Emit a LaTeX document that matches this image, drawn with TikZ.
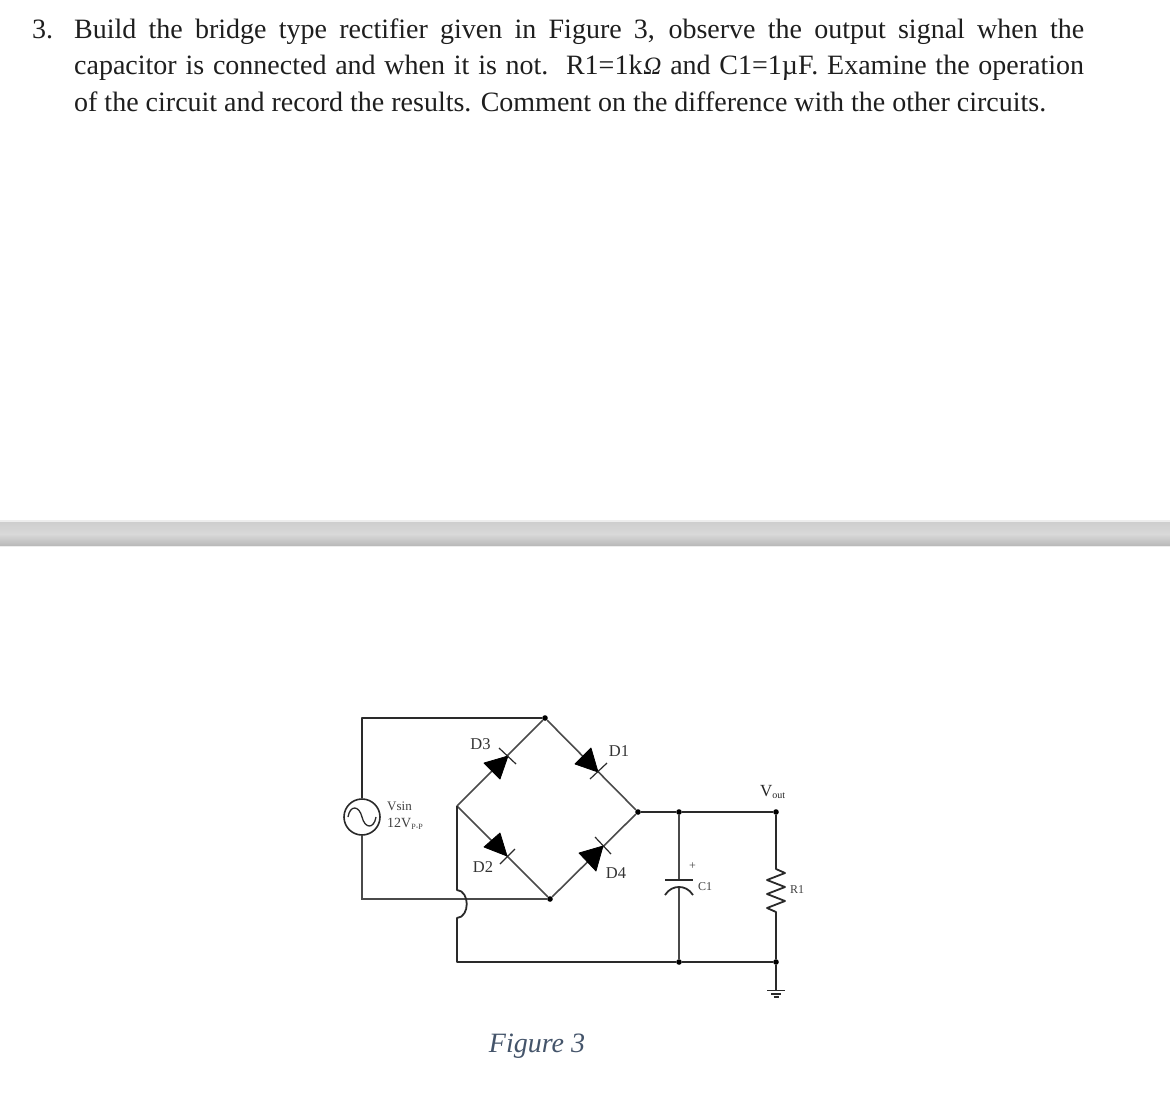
\documentclass[tikz,border=0pt]{standalone}
\usepackage{fontspec}
\setmainfont{Liberation Serif}
\usetikzlibrary{calc}
\definecolor{txt}{HTML}{1E1E1E}
\definecolor{wire}{HTML}{2A2A2A}
\definecolor{figcap}{HTML}{44546A}
\tikzset{
  wireline/.style={draw=wire,line width=1.8pt,line join=round},
  thinwire/.style={draw=wire!85!white,line width=1.6pt},
  jdot/.style={circle,fill=black,inner sep=0pt,minimum size=5.6pt},
  body/.style={inner sep=0pt,anchor=base west,text=txt,font=\fontsize{28}{30}\selectfont},
  lab/.style={inner sep=0pt,text=black!80,font=\fontsize{16.5}{18}\selectfont},
  smalllab/.style={inner sep=0pt,text=black!75,font=\fontsize{13}{14}\selectfont},
  diodetri/.style={fill=black,draw=black,line width=.8pt,line join=round},
  diodebar/.style={draw=wire,line width=1.2pt},
}
\begin{document}
\begin{tikzpicture}[x=1pt,y=-1pt]
\useasboundingbox (0,0) rectangle (1170,1100);
% question text
\node[body] (n3) at (32,38) {3.};
\node[body] (l1) at (74,38) {\makebox[1010pt][s]{Build the bridge type rectifier given in Figure 3, observe the output signal when the}};
\node[body] (l2) at (74,74.5) {\makebox[1010pt][s]{capacitor is connected and when it is not.\ \ R1=1k{\fontsize{25}{25}\selectfont\kern1pt\textit{Ω}} and C1=1µF. Examine the operation}};
\node[body] (l3) at (74,111) {\makebox[972pt][s]{of the circuit and record the results. Comment on the difference with the other circuits.}};
% separator band
\fill[black!7] (0,520) rectangle (1170,547);
\shade[top color=black!19,bottom color=black!15] (0,522.5) rectangle (1170,534);
\shade[top color=black!15,bottom color=black!27] (0,534) rectangle (1170,545);
% junctions
\node[jdot] (top) at (545,718) {};
\coordinate (left) at (457,806);
\node[jdot] (right) at (638,812) {};
\node[jdot] (bot) at (550,899) {};
\node[jdot] (ctop) at (679,812) {};
\node[jdot] (vout) at (776,812) {};
\node[jdot] (cbot) at (679,962) {};
\node[jdot] (rbot) at (776,962) {};
\coordinate (tl) at (362,718);
\coordinate (bl) at (362,899);
\coordinate (bbl) at (457,962);
\coordinate (j1) at (457,890);
\coordinate (j2) at (457,918);
% source
\node[circle,draw=wire,line width=1.6pt,minimum size=36pt,inner sep=0pt] (src) at (362,817) {};
\draw[draw=wire,line width=1.3pt] (348,817) .. controls (350,805) and (359,805) .. (362,817) .. controls (365,829) and (374,829) .. (376,817);
% wires
\draw[wireline,line width=2.1pt] (src.north) -- (tl) -- (top);
\draw[thinwire] (src.south) -- (bl) -- (bot);
\draw[thinwire] (left) -- (top);
\draw[thinwire] (top) -- (right);
\draw[thinwire] (left) -- (bot);
\draw[thinwire] (bot) -- (right);
\draw[wireline] (left) -- (j1) .. controls (470,891) and (470,917) .. (j2) -- (bbl) -- (cbot) -- (rbot);
\draw[wireline,line width=2.1pt] (right) -- (ctop) -- (vout);
% diodes
\fill[diodetri] (508,756) -- (484,763) -- (500,779) -- cycle;
\draw[diodebar] (499,748) -- (516,764);
\fill[diodetri] (598,772) -- (575,764) -- (591,748) -- cycle;
\draw[diodebar] (590,779) -- (607,763);
\fill[diodetri] (507,856) -- (484,847) -- (500,833) -- cycle;
\draw[diodebar] (500,864) -- (515,849);
\fill[diodetri] (603,846) -- (579,853) -- (596,871) -- cycle;
\draw[diodebar] (595,837) -- (611,854);
% capacitor
\coordinate (cp1) at (679,880);
\coordinate (cp2) at (679,887);
\draw[thinwire,line width=1.8pt] (ctop) -- (cp1);
\draw[thinwire,line width=1.8pt] (cp2) -- (cbot);
\draw[wireline] (665,880) -- (693,880);
\draw[wireline] (665,895) .. controls (669,889) and (674,887) .. (cp2) .. controls (684,887) and (689,889) .. (693,895);
% resistor
\coordinate (r1) at (776,869);
\coordinate (r2) at (776,912);
\coordinate (gnd) at (776,990);
\draw[wireline] (vout) -- (r1) -- (785,873) -- (767,880) -- (785,887) -- (767,894) -- (785,901) -- (767,908) -- (r2) -- (rbot) -- (gnd);
% ground
\draw[wireline] (767,990.5) -- (785,990.5);
\draw[wireline] (771,994) -- (781,994);
\draw[wireline,line width=2.2pt] (773.5,997) -- (778.5,997);
% labels
\node[lab] (d3) at (480.5,744.5) {D3};
\node[lab] (d1) at (619,751.5) {D1};
\node[lab] (d2) at (483,867.5) {D2};
\node[lab] (d4) at (616,873.5) {D4};
\node[smalllab,anchor=west] (vsin) at (387,806.5) {Vsin};
\node[smalllab,anchor=west,font=\fontsize{14}{15}\selectfont] (vpp) at (387,824) {12V\raisebox{-2pt}{\fontsize{8}{9}\selectfont P-P}};
\node[inner sep=0pt,anchor=west,text=black!85,font=\fontsize{17}{18}\selectfont] (vo) at (760,792) {V\raisebox{-2pt}{\fontsize{10}{10}\selectfont out}};
\node[smalllab,font=\fontsize{12}{12}\selectfont] (c1) at (705,887) {C1};
\node[smalllab,font=\fontsize{12}{12}\selectfont] (r1l) at (797,890) {R1};
\node[smalllab,font=\fontsize{12}{12}\selectfont] (plus) at (692.5,866.5) {+};
\node[inner sep=0pt,text=figcap,font=\fontsize{28}{30}\selectfont\itshape] (cap) at (537,1046) {Figure 3};
\end{tikzpicture}
\end{document}
